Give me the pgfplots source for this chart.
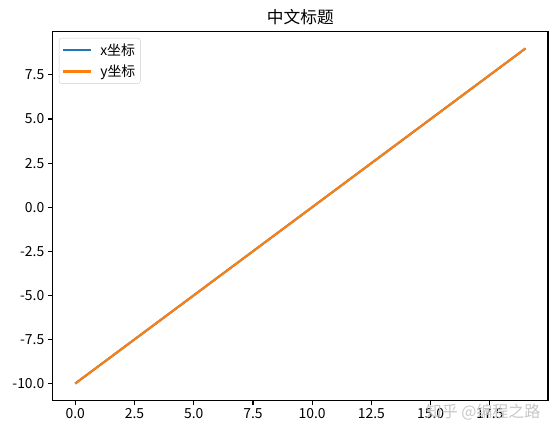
\documentclass[border=0pt]{standalone}
\usepackage{fontspec}
\setmainfont{Noto Sans CJK SC}
\usepackage{pgfplots}
\pgfplotsset{compat=1.18}
\definecolor{mplblue}{HTML}{1F77B4}
\definecolor{mplorange}{HTML}{FF7F0E}
\begin{document}
\begin{tikzpicture}
\path (0,0) rectangle (557pt,434pt);
\begin{axis}[
  at={(52.7pt,33.7pt)}, anchor=south west,
  scale only axis,
  width=495.3pt, height=368.6pt,
  xmin=-0.95, xmax=19.95,
  ymin=-10.95, ymax=9.95,
  xtick={0,2.5,...,17.5},
  ytick={-10,-7.5,...,7.5},
  tick align=outside,
  major tick length=4.9pt,
  tick style={black, line width=1.1pt},
  axis line style={line width=1.1pt},
  xtick pos=bottom, ytick pos=left,
  ticklabel style={font=\fontsize{13.9}{16}\selectfont},
  /pgf/number format/.cd, fixed, fixed zerofill, precision=1, assume math mode=true,
  /pgfplots/.cd,
  legend style={at={(0,1)}, anchor=north west, xshift=6.3pt, yshift=-6.3pt,
    draw=black!20, rounded corners=2.5pt, fill=white, fill opacity=0.8, text opacity=1,
    font=\fontsize{13.9}{16}\selectfont, inner xsep=3pt, inner ysep=3.5pt,
    row sep=4pt,
    /tikz/every odd column/.append style={column sep=6pt}},
  legend cell align=left,
  legend image code/.code={
    \draw[#1, line width=2.1pt] (0pt,0pt) -- (28pt,0pt);},
]
\addplot[mplblue, line width=2.1pt] coordinates {
(0,-10)(1,-9)(2,-8)(3,-7)(4,-6)(5,-5)(6,-4)(7,-3)(8,-2)(9,-1)
(10,0)(11,1)(12,2)(13,3)(14,4)(15,5)(16,6)(17,7)(18,8)(19,9)};
\addlegendentry{x坐标}
\addplot[mplorange, line width=2.1pt] coordinates {
(0,-10)(1,-9)(2,-8)(3,-7)(4,-6)(5,-5)(6,-4)(7,-3)(8,-2)(9,-1)
(10,0)(11,1)(12,2)(13,3)(14,4)(15,5)(16,6)(17,7)(18,8)(19,9)};
\addlegendentry{y坐标}
\end{axis}
\node[font=\fontsize{16.7}{18}\selectfont] at (300.3pt,417pt) {中文标题};
\node[text=black!22, font=\fontsize{16}{18}\selectfont, anchor=east] at (544pt,22pt) {知乎 @编程之路};
\end{tikzpicture}
\end{document}
